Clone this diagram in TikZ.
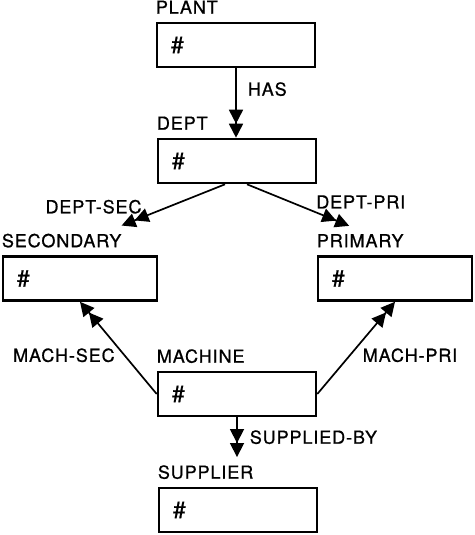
\documentclass[tikz,border=0pt]{standalone}
\usepackage{fontspec}
\setmainfont[LetterSpace=5,FakeBold=0.8]{TeX Gyre Heros}
\usetikzlibrary{arrows.meta}

\begin{document}
\begin{tikzpicture}[x=1pt,y=-1pt,
    entity/.style={shape=rectangle,draw=black,line width=2.6pt,minimum height=44pt,
      inner xsep=14pt,text width=#1,align=left,font=\fontsize{23}{24}\selectfont},
    entity/.default=130pt,
    lbl/.style={anchor=base west,inner sep=0pt,font=\fontsize{18}{20}\selectfont},
    rel/.style={inner sep=2pt,font=\fontsize{18}{20}\selectfont},
    link/.style={-{Triangle[length=14pt,width=14pt]Triangle[length=14pt,width=14pt]},line width=1.7pt}]
                  \useasboundingbox (0,0) rectangle (474,535);

                  % entities
                  \node[entity] (plant) at (236,45) {\#};
                  \node[entity] (dept) at (237,161) {\#};
                  \node[entity=126pt] (secondary) at (80,278.5) {\#};
                  \node[entity=126pt] (primary) at (395,278.5) {\#};
                  \node[entity] (machine) at (237,394) {\#};
                  \node[entity] (supplier) at (238,510) {\#};

                  % names
                  \node[lbl] (plantlbl) at ([yshift=8pt]plant.north west) {PLANT};
                  \node[lbl] (deptlbl) at ([yshift=8pt]dept.north west) {DEPT};
                  \node[lbl] (seclbl) at ([yshift=8pt]secondary.north west) {SECONDARY};
                  \node[lbl] (prilbl) at ([yshift=8pt]primary.north west) {PRIMARY};
                  \node[lbl] (machlbl) at ([yshift=8pt]machine.north west) {MACHINE};
                  \node[lbl] (supplbl) at ([yshift=8pt]supplier.north west) {SUPPLIER};

                  % sets
                  \draw[link] (plant.south) -- (plant.south |- dept.north)
                    node[rel,pos=0.3,anchor=west,xshift=9pt] {HAS};
                  \draw[link] ([xshift=-12pt]dept.south) -- ([yshift=8pt]seclbl.north east)
                    node[rel,pos=0.78,anchor=south east] {DEPT-SEC};
                  \draw[link] ([xshift=10pt]dept.south) -- ([xshift=-11pt,yshift=8pt]prilbl.north)
                    node[rel,pos=0.65,anchor=south west] {DEPT-PRI};
                  \draw[link] (machine.west) -- (secondary.south)
                    node[rel,pos=0.42,anchor=east,xshift=-7pt] {MACH-SEC};
                  \draw[link] (machine.east) -- (primary.south)
                    node[rel,pos=0.42,anchor=west,xshift=10pt] {MACH-PRI};
                  \draw[link] (machine.south) -- ([yshift=8pt]machine.south |- supplbl.north)
                    node[rel,pos=0.5,anchor=west,xshift=10pt] {SUPPLIED-BY};
\end{tikzpicture}
\end{document}
